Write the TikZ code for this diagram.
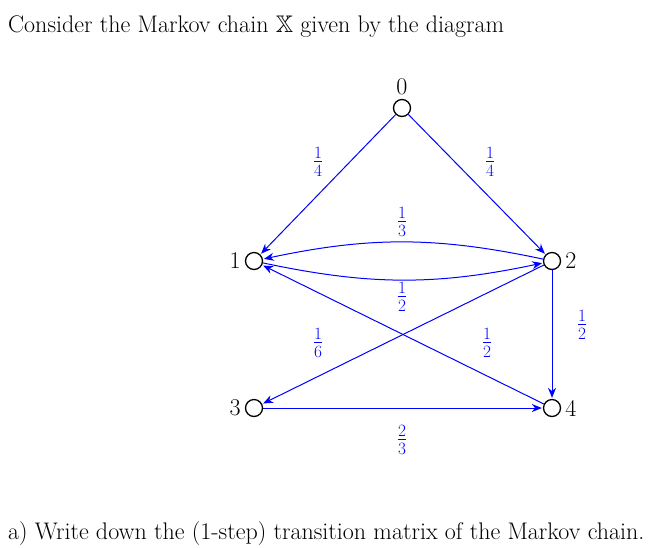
\documentclass[tikz,border=0pt]{standalone}
\usepackage{amssymb}
\usetikzlibrary{arrows.meta}
\begin{document}
\begin{tikzpicture}[x=1pt,y=-1pt,
  st/.style={circle,draw,line width=1.3pt,minimum size=17pt,inner sep=0pt},
  ed/.style={blue,line width=1pt,-{Stealth[length=10pt,width=8pt]},shorten >=1pt},
  lb/.style={blue,font=\fontsize{24}{28}\selectfont},
  tx/.style={font=\fontsize{24}{28}\selectfont,anchor=base west,inner sep=0pt}]
\useasboundingbox (0,0) rectangle (668,547);
\node[tx] (t1) at (8,32) {Consider the Markov chain $\mathbb{X}$ given by the diagram};
\node[tx] (t2) at (8,539) {a) Write down the (1-step) transition matrix of the Markov chain.};
\node[st] (n0) at (402,108) {};
\node[st] (n1) at (254,261) {};
\node[st] (n2) at (552,261) {};
\node[st] (n3) at (254,408) {};
\node[st] (n4) at (552,408) {};
\node[tx,anchor=south] at (n0.north) [yshift=4pt] {0};
\node[tx,anchor=east] at (n1.west) [xshift=-4pt] {1};
\node[tx,anchor=west] at (n2.east) [xshift=4pt] {2};
\node[tx,anchor=east] at (n3.west) [xshift=-4pt] {3};
\node[tx,anchor=west] at (n4.east) [xshift=4pt] {4};
\draw[ed] (n0) -- (n1);
\draw[ed] (n0) -- (n2);
\draw[ed] (n2) to[bend right=12] (n1);
\draw[ed] (n1) to[bend right=12] (n2);
\draw[ed] (n2) -- (n3);
\draw[ed] (n4) -- (n1);
\draw[ed] (n2) -- (n4);
\draw[ed] (n3) -- (n4);
\node[lb] at (318,162) {$\frac14$};
\node[lb] at (490,162) {$\frac14$};
\node[lb] at (402,222) {$\frac13$};
\node[lb] at (402,297) {$\frac12$};
\node[lb] at (318,343) {$\frac16$};
\node[lb] at (487,343) {$\frac12$};
\node[lb] at (582,325) {$\frac12$};
\node[lb] at (402,440) {$\frac23$};
\end{tikzpicture}
\end{document}
